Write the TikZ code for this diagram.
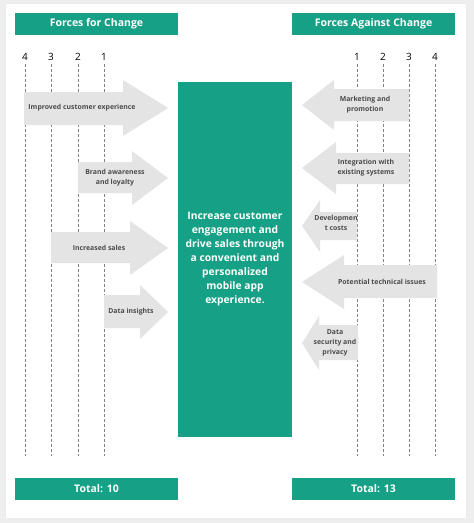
\documentclass[tikz,border=0pt]{standalone}
\usepackage{fontspec}
\setmainfont{Open Sans}
\usepackage{tikz}
\usepackage{xcolor}
\usetikzlibrary{positioning}
\definecolor{forceteal}{RGB}{22, 160, 133}
\definecolor{arrowgray}{RGB}{228, 228, 228}
\definecolor{labelgray}{RGB}{75, 75, 75}
\definecolor{pagegray}{RGB}{238, 238, 238}
\definecolor{guidegray}{RGB}{130, 130, 130}

\begin{document}
\begin{tikzpicture}[x=1pt, y=-1pt,
  headbar/.style={fill=forceteal, text=white, font=\bfseries\fontsize{10.5}{12}\selectfont, minimum width=163pt, minimum height=22pt, inner sep=0pt},
  scorenum/.style={font=\fontsize{10}{11}\selectfont, text=black},
  guide/.style={guidegray, densely dashed, line width=0.45pt},
  forcelabel/.style={text=labelgray, font=\bfseries\fontsize{6.9}{10}\selectfont, align=center, inner sep=0pt}]

% page and card
\fill[pagegray] (0,0) rectangle (474,523);
\fill[white, draw=black!8] (5,3) rectangle (466,518);

% headers
\node[headbar] (hdrfor) at (96.5,24) {Forces for Change};
\node[headbar] (hdragainst) at (373.5,24) {Forces Against Change};

% scores
\node[scorenum] (lfour) at (25,57) {4};
\node[scorenum] (lthree) at (51,57) {3};
\node[scorenum] (ltwo) at (78,57) {2};
\node[scorenum] (lone) at (104,57) {1};
\node[scorenum] (rone) at (357,57) {1};
\node[scorenum] (rtwo) at (383,57) {2};
\node[scorenum] (rthree) at (409,57) {3};
\node[scorenum] (rfour) at (435,57) {4};

% guide lines
\draw[guide] (25,64) -- (25,456);
\draw[guide] (51,64) -- (51,456);
\draw[guide] (78,64) -- (78,456);
\draw[guide] (104,64) -- (104,456);
\draw[guide] (357,64) -- (357,456);
\draw[guide] (383,64) -- (383,456);
\draw[guide] (409,64) -- (409,456);
\draw[guide] (435,64) -- (435,456);

% forces for change
\fill[arrowgray] (24,92) -- (123,92) -- (123,80) -- (168,108) -- (123,136) -- (123,125) -- (24,125) -- cycle;
\fill[arrowgray] (78,162) -- (132,162) -- (132,151) -- (168,178) -- (132,205) -- (132,193) -- (78,193) -- cycle;
\fill[arrowgray] (51,232) -- (130,232) -- (130,221) -- (168,248) -- (130,275) -- (130,263) -- (51,263) -- cycle;
\fill[arrowgray] (104,295) -- (140,295) -- (140,285) -- (168,312) -- (140,339) -- (140,328) -- (104,328) -- cycle;

\node[forcelabel] (improved) at (82,107.5) {Improved customer experience};
\node[forcelabel] (brand) at (115,177.5) {Brand awareness\\and loyalty};
\node[forcelabel] (sales) at (99,247.5) {Increased sales};
\node[forcelabel] (insights) at (131,311.5) {Data insights};

% forces against change
\fill[arrowgray] (409,89) -- (334,89) -- (334,80) -- (302,105) -- (334,130) -- (334,121) -- (409,121) -- cycle;
\fill[arrowgray] (409,153) -- (336,153) -- (336,142) -- (302,168) -- (336,194) -- (336,184) -- (409,184) -- cycle;
\fill[arrowgray] (357,212) -- (320,212) -- (320,200) -- (302,226) -- (320,252) -- (320,240) -- (357,240) -- cycle;
\fill[arrowgray] (437,265) -- (344,265) -- (344,255) -- (302,282) -- (344,309) -- (344,298) -- (437,298) -- cycle;
\fill[arrowgray] (358,325) -- (319,325) -- (319,316) -- (302,343) -- (319,370) -- (319,360) -- (358,360) -- cycle;

\node[forcelabel] (marketing) at (365,104.5) {Marketing and\\promotion};
\node[forcelabel] (integration) at (366,168) {Integration with\\existing systems};
\node[forcelabel] (devcost) at (336,223) {Developmen\\t costs};
\node[forcelabel] (technical) at (382,281.5) {Potential technical issues};
\node[forcelabel] (security) at (335,343) {Data\\security and\\privacy};

% goal
\node[fill=forceteal, minimum width=114pt, minimum height=355pt, inner sep=0pt] (goal) at (235,259.5) {};
\node[text=white, font=\bfseries\fontsize{10.3}{14}\selectfont, align=center] (goaltext) at (goal.center) {Increase customer\\engagement and\\drive sales through\\a convenient and\\personalized\\mobile app\\experience.};

% totals
\node[headbar] (totalfor) at (96.5,489) {Total: 10};
\node[headbar] (totalagainst) at (373.5,489) {Total: 13};

\end{tikzpicture}
\end{document}
